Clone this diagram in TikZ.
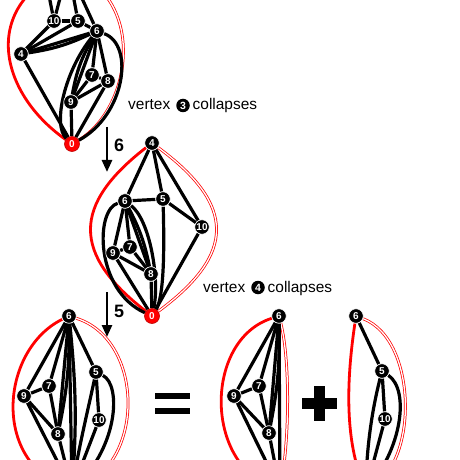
\documentclass[tikz,border=0pt]{standalone}
\usepackage{fontspec}
\setmainfont{Liberation Sans}
\setsansfont{Liberation Sans}
\usetikzlibrary{arrows.meta,backgrounds}
\begin{document}
\begin{tikzpicture}[x=1bp,y=-1bp,
  vx/.style={circle, fill=black, draw=white, line width=0.6bp, inner sep=0pt, minimum size=14.5bp, text=white, font=\fontsize{10}{10}\selectfont\bfseries},
  zerov/.style={vx, fill=red, draw=red!75!black, minimum size=15bp},
  edg/.style={line width=3.2bp, black},
  redl/.style={draw=red, line width=2.8bp},
  redr/.style={draw=red, double=white, double distance=1.3bp, line width=0.75bp},
  labtxt/.style={inner sep=0pt, font=\fontsize{15.5}{18}\selectfont},
  labcirc/.style={circle, fill=black, inner sep=0pt, minimum size=13.5bp, text=white, font=\fontsize{10.5}{10}\selectfont\bfseries},
  numtxt/.style={inner sep=0pt, font=\fontsize{18}{20}\selectfont\bfseries},
  arrw/.style={line width=2.6bp, -{Triangle[width=10bp,length=12bp]}}]
\useasboundingbox (0,0) rectangle (460,460);
\clip (0,0) rectangle (460,460);

% ---------- top graph ----------
\coordinate (H) at (68,-32);
\coordinate (H2) at (44,-30);
\node[vx] (t10) at (54,21) {10};
\node[vx] (t5) at (78,21) {5};
\node[vx] (t6) at (97,31) {6};
\node[vx] (t4) at (21,54) {4};
\node[vx] (t7) at (92,75) {7};
\node[vx] (t8) at (108,81) {8};
\node[vx] (t9) at (71,102) {9};
\node[zerov] (t0) at (72,144) {0};

% ---------- middle graph ----------
\node[vx] (m4) at (152,143) {4};
\node[vx] (m6) at (125,201) {6};
\node[vx] (m5) at (163,199) {5};
\node[vx] (m10) at (202,227) {10};
\node[vx] (m7) at (130,247) {7};
\node[vx] (m9) at (113,253) {9};
\node[vx] (m8) at (151,274) {8};
\node[zerov] (m0) at (152,316) {0};

% ---------- bottom left ----------
\node[vx] (b6) at (69,316) {6};
\node[vx] (b5) at (96,372) {5};
\node[vx] (b7) at (49,386) {7};
\node[vx] (b9) at (24,396) {9};
\node[vx] (b10) at (99,420) {10};
\node[vx] (b8) at (58,434) {8};
\coordinate (b0) at (72,490);

% ---------- bottom middle ----------
\node[vx] (c6) at (279,316) {6};
\node[vx] (c7) at (259,386) {7};
\node[vx] (c9) at (234,396) {9};
\node[vx] (c8) at (269,433) {8};
\coordinate (c0) at (280,490);

% ---------- bottom right ----------
\node[vx] (d6) at (356,316) {6};
\node[vx] (d5) at (382,371) {5};
\node[vx] (d10) at (385,419) {10};
\coordinate (d0) at (366,490);

\begin{scope}[on background layer]
\clip (0,0) rectangle (460,460);
% top
\draw[redl] (H) .. controls (-20,5) and (-2,92) .. (t0);
\draw[redr] (H) .. controls (150,0) and (130,110) .. (t0);
\draw[edg] (H2) -- (t10);
\draw[edg] (H) -- (t10);
\draw[edg] (H) -- (t5);
\draw[edg] (H) -- (t6);
\draw[edg] (t10) -- (t5);
\draw[edg] (t5) -- (t6);
\draw[edg] (t4) -- (t10);
\draw[edg] (t4) -- (t5);
\draw[edg] (t4) -- (t6);
\draw[edg] (t4) to[bend right=8] (t6);
\draw[edg] (t4) -- (t0);
\draw[edg] (t6) -- (t7);
\draw[edg] (t6) -- (t8);
\draw[edg] (t6) -- (t9);
\draw[edg] (t6) to[bend right=10] (t9);
\draw[edg] (t6) .. controls (65,70) and (52,125) .. (t0);
\draw[edg] (t6) .. controls (135,45) and (125,115) .. (t0);
\draw[edg] (t7) -- (t8);
\draw[edg] (t7) -- (t9);
\draw[edg] (t8) -- (t9);
\draw[edg] (t9) -- (t0);
\draw[edg] (t8) -- (t0);
% middle
\draw[redl] (m4) .. controls (72,205) and (72,254) .. (m0);
\draw[redr] (m4) .. controls (236,205) and (236,254) .. (m0);
\draw[edg] (m4) -- (m6);
\draw[edg] (m4) -- (m5);
\draw[edg] (m4) -- (m10);
\draw[edg] (m6) -- (m5);
\draw[edg] (m5) -- (m10);
\draw[edg] (m5) .. controls (165,270) and (162,300) .. (m0);
\draw[edg] (m10) -- (m0);
\draw[edg] (m6) -- (m9);
\draw[edg] (m6) -- (m7);
\draw[edg] (m6) -- (m8);
\draw[edg] (m6) to[bend left=8] (m8);
\draw[edg] (m6) .. controls (150,220) and (160,280) .. (m0);
\draw[edg] (m6) .. controls (95,210) and (95,290) .. (m0);
\draw[edg] (m9) -- (m0);
\draw[edg] (m9) -- (m8);
\draw[edg] (m9) -- (m7);
\draw[edg] (m7) -- (m8);
\draw[edg] (m8) -- (m0);
% bottom left
\draw[redl] (b6) .. controls (0,350) and (-10,465) .. (b0);
\draw[redr] (b6) .. controls (146,340) and (146,470) .. (b0);
\draw[edg] (b6) -- (b9);
\draw[edg] (b6) -- (b7);
\draw[edg] (b6) -- (b8);
\draw[edg] (b6) to[bend left=6] (b8);
\draw[edg] (b6) -- (b0);
\draw[edg] (b6) to[bend left=5] (b0);
\draw[edg] (b6) -- (b5);
\draw[edg] (b5) -- (b10);
\draw[edg] (b5) .. controls (88,410) and (78,450) .. (b0);
\draw[edg] (b5) .. controls (122,385) and (118,450) .. (b0);
\draw[edg] (b10) -- (b0);
\draw[edg] (b9) -- (b7);
\draw[edg] (b9) -- (b8);
\draw[edg] (b9) -- (b0);
\draw[edg] (b7) -- (b8);
\draw[edg] (b8) -- (b0);
% bottom middle
\draw[redl] (c6) .. controls (203,340) and (203,470) .. (c0);
\draw[redr] (c6) .. controls (290,360) and (290,440) .. (c0);
\draw[edg] (c6) -- (c9);
\draw[edg] (c6) -- (c7);
\draw[edg] (c6) -- (c8);
\draw[edg] (c6) to[bend left=6] (c8);
\draw[edg] (c6) -- (c0);
\draw[edg] (c9) -- (c7);
\draw[edg] (c9) -- (c8);
\draw[edg] (c9) -- (c0);
\draw[edg] (c7) -- (c8);
\draw[edg] (c8) -- (c0);
% bottom right
\draw[redl] (d6) .. controls (348,370) and (342,440) .. (d0);
\draw[redr] (d6) .. controls (419,340) and (419,470) .. (d0);
\draw[edg] (d6) -- (d5);
\draw[edg] (d5) -- (d10);
\draw[edg] (d10) -- (d0);
\draw[edg] (d5) .. controls (372,410) and (366,450) .. (d0);
\draw[edg] (d5) .. controls (410,390) and (402,450) .. (d0);
\end{scope}

% arrows and labels
\coordinate (a1s) at (107,127);
\coordinate (a1e) at (107,172);
\draw[arrw] (a1s) -- (a1e);
\node[numtxt] (n6) at (119,145) {6};
\coordinate (a2s) at (107,292);
\coordinate (a2e) at (107,337);
\draw[arrw] (a2s) -- (a2e);
\node[numtxt] (n5) at (119,311) {5};

\node[labtxt, anchor=base west] (l1a) at (128,110) {vertex};
\node[labcirc] (l1b) at (183,105.5) {3};
\node[labtxt, anchor=base west] (l1c) at (192.5,110) {collapses};
\node[labtxt, anchor=base west] (l2a) at (203,292) {vertex};
\node[labcirc] (l2b) at (258,287.5) {4};
\node[labtxt, anchor=base west] (l2c) at (267.5,292) {collapses};

% equals and plus
\fill[black] (155,392.5) rectangle (190,398.5);
\fill[black] (155,407.5) rectangle (190,413.5);
\fill[black] (302,398) rectangle (337,408.5);
\fill[black] (313.5,386) rectangle (325,420.5);
\end{tikzpicture}
\end{document}
